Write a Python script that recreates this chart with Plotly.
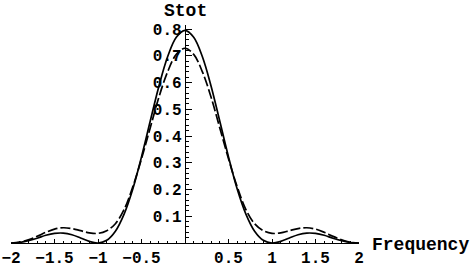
import plotly.graph_objects as go

freq = [-2.0, -1.9, -1.8, -1.7, -1.6, -1.5, -1.4, -1.3, -1.2, -1.1, -1.0,
        -0.9, -0.8, -0.7, -0.6, -0.5, -0.4, -0.3, -0.2, -0.1, 0.0,
        0.1, 0.2, 0.3, 0.4, 0.5, 0.6, 0.7, 0.8, 0.9, 1.0,
        1.1, 1.2, 1.3, 1.4, 1.5, 1.6, 1.7, 1.8, 1.9, 2.0]

stot_solid = [0.0, 0.002, 0.009, 0.018, 0.029, 0.036, 0.037, 0.031, 0.019, 0.006, 0.0,
              0.010, 0.044, 0.108, 0.202, 0.322, 0.455, 0.586, 0.696, 0.769, 0.795,
              0.769, 0.696, 0.586, 0.455, 0.322, 0.202, 0.108, 0.044, 0.010, 0.0,
              0.006, 0.019, 0.031, 0.037, 0.036, 0.029, 0.018, 0.009, 0.002, 0.0]

stot_dashed = [0.0, 0.003, 0.012, 0.025, 0.040, 0.052, 0.057, 0.054, 0.046, 0.038, 0.036,
               0.046, 0.072, 0.125, 0.210, 0.315, 0.430, 0.545, 0.640, 0.705, 0.728,
               0.705, 0.640, 0.545, 0.430, 0.315, 0.210, 0.125, 0.072, 0.046, 0.036,
               0.038, 0.046, 0.054, 0.057, 0.052, 0.040, 0.025, 0.012, 0.003, 0.0]

x_tickvals = [-2, -1.5, -1, -0.5, 0.5, 1, 1.5, 2]
x_ticktext = ["\u22122", "\u22121.5", "\u22121", "\u22120.5", "0.5", "1", "1.5", "2"]
y_tickvals = [0.1, 0.2, 0.3, 0.4, 0.5, 0.6, 0.7, 0.8]
y_ticktext = ["0.1", "0.2", "0.3", "0.4", "0.5", "0.6", "0.7", "0.8"]

fig = go.Figure()
fig.add_trace(go.Scatter(x=freq, y=stot_dashed, mode="lines",
                         line=dict(color="black", width=1.7, dash="10px,3px", shape="spline"),
                         showlegend=False))
fig.add_trace(go.Scatter(x=freq, y=stot_solid, mode="lines",
                         line=dict(color="black", width=1.7, shape="spline"),
                         showlegend=False))

tick_font = dict(family="Liberation Mono", size=16, color="black", weight="bold")
label_font = dict(family="Liberation Mono", size=18, color="black", weight="bold")

fig.update_layout(
    width=474, height=269,
    template="none",
    paper_bgcolor="white", plot_bgcolor="white",
    margin=dict(l=11, r=115, t=25, b=26, autoexpand=False),
    showlegend=False,
    xaxis=dict(range=[-2, 2], showgrid=False, zeroline=False, showline=True,
               linecolor="black", linewidth=1.4, ticks="inside", ticklen=4,
               tickcolor="black", tickvals=x_tickvals, ticktext=x_ticktext,
               tickfont=tick_font, automargin=False,
               minor=dict(ticks="inside", ticklen=2, dtick=0.1, tickcolor="black", showgrid=False)),
    yaxis=dict(range=[0, 0.815], showgrid=False, zeroline=False, showline=True,
               linecolor="black", linewidth=1.4, anchor="free", position=0.5,
               side="left", ticks="inside", ticklen=6, tickcolor="black",
               tickvals=y_tickvals, ticktext=y_ticktext, tickfont=tick_font,
               automargin=False,
               minor=dict(ticks="inside", ticklen=3, dtick=0.02, tickcolor="black", showgrid=False)),
    annotations=[
        dict(text="Stot", x=0, xref="x", y=1, yref="paper", yanchor="bottom",
             xanchor="center", yshift=2, showarrow=False, font=label_font),
        dict(text="Frequency", x=2, xref="x", y=0, yref="y", xanchor="left",
             yanchor="middle", xshift=11, yshift=-2, showarrow=False, font=label_font),
    ],
)

fig.write_html("out.html")
